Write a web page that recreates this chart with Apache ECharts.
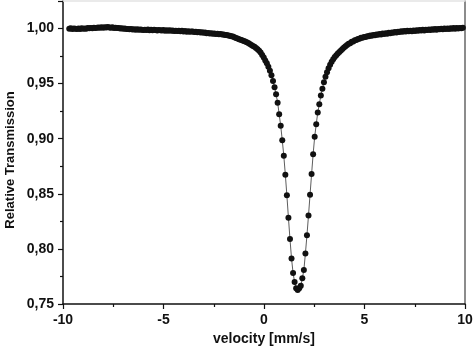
<!DOCTYPE html>
<html>
<head>
<meta charset="utf-8">
<script src="https://cdn.jsdelivr.net/npm/echarts@6/dist/echarts.min.js"></script>
<style>
  html, body { margin: 0; padding: 0; background: #fff; }
  #chart { width: 474px; height: 347px; }
</style>
</head>
<body>
<div id="chart"></div>
<script>
// Mössbauer absorption spectrum: 256 channels, relative transmission per channel.
const velocityStart = -9.69;   // mm/s, first channel
const velocityStep = 0.0768;   // mm/s per channel

const transmission = [
  0.9998, 1.0002, 0.9996, 1.0001, 0.9999, 0.9995, 1.0000, 0.9997, 1.0003, 0.9999,
  1.0001, 0.9998, 1.0004, 1.0002, 1.0006, 1.0003, 1.0008, 1.0005, 1.0007, 1.0010,
  1.0007, 1.0011, 1.0008, 1.0012, 1.0009, 1.0013, 1.0010, 1.0008, 1.0011, 1.0006,
  1.0008, 1.0004, 1.0006, 1.0001, 1.0003, 0.9998, 1.0000, 0.9995, 0.9997, 0.9993,
  0.9995, 0.9991, 0.9994, 0.9990, 0.9993, 0.9988, 0.9992, 0.9989, 0.9986, 0.9990,
  0.9987, 0.9991, 0.9985, 0.9988, 0.9984, 0.9989, 0.9986, 0.9982, 0.9987, 0.9984,
  0.9983, 0.9986, 0.9981, 0.9985, 0.9980, 0.9984, 0.9979, 0.9983, 0.9978, 0.9981,
  0.9977, 0.9980, 0.9975, 0.9979, 0.9974, 0.9977, 0.9972, 0.9976, 0.9971, 0.9974,
  0.9973, 0.9969, 0.9972, 0.9966, 0.9969, 0.9964, 0.9966, 0.9961, 0.9963, 0.9958,
  0.9959, 0.9955, 0.9957, 0.9953, 0.9955, 0.9951, 0.9952, 0.9949, 0.9950, 0.9946,
  0.9946, 0.9942, 0.9941, 0.9937, 0.9934, 0.9930, 0.9927, 0.9921, 0.9915, 0.9909,
  0.9903, 0.9898, 0.9893, 0.9888, 0.9882, 0.9876, 0.9868, 0.9859, 0.9850, 0.9841,
  0.9834, 0.9824, 0.9813, 0.9799, 0.9782, 0.9761, 0.9737, 0.9711, 0.9684, 0.9653,
  0.9618, 0.9575, 0.9524,
  0.9467, 0.9404, 0.9327, 0.9223, 0.9117, 0.8987, 0.8845, 0.8672, 0.8486, 0.8283,
  0.8089, 0.7914, 0.7781, 0.7700, 0.7642, 0.7626,
  0.7642, 0.7665, 0.7733, 0.7808, 0.7959, 0.8125, 0.8304, 0.8491, 0.8679, 0.8860,
  0.9017, 0.9132, 0.9238, 0.9313, 0.9392, 0.9454, 0.9513, 0.9563, 0.9604, 0.9640,
  0.9672, 0.9699,
  0.9722, 0.9742, 0.9758, 0.9773, 0.9787, 0.9800, 0.9814, 0.9827, 0.9839, 0.9850,
  0.9862, 0.9867, 0.9880, 0.9883, 0.9894, 0.9896, 0.9906, 0.9907, 0.9916, 0.9916,
  0.9924, 0.9923, 0.9931, 0.9929, 0.9937, 0.9934, 0.9941, 0.9939, 0.9947, 0.9944,
  0.9950, 0.9947, 0.9954, 0.9951, 0.9957, 0.9953, 0.9961, 0.9957, 0.9965, 0.9961,
  0.9969, 0.9964, 0.9972, 0.9968, 0.9976, 0.9972, 0.9978, 0.9973, 0.9979, 0.9975,
  0.9981, 0.9976, 0.9983, 0.9978, 0.9985, 0.9980, 0.9987, 0.9982, 0.9988, 0.9983,
  0.9990, 0.9986, 0.9991, 0.9987, 0.9994, 0.9989, 0.9995, 0.9990, 0.9997, 0.9993,
  0.9998, 0.9994, 1.0000, 0.9995, 1.0001, 0.9997, 1.0002, 0.9998, 1.0004, 0.9999,
  1.0004, 1.0001, 1.0005, 1.0003, 1.0007
];

const xTicks = [-10, -5, 0, 5, 10];
const yTicks = [0.75, 0.80, 0.85, 0.90, 0.95, 1.00];
const xTitle = 'velocity [mm/s]';
const yTitle = 'Relative Transmission';

const points = transmission.map((t, i) => [velocityStart + i * velocityStep, t]);

const font = 'Liberation Sans';
const ink = '#111';
const chart = echarts.init(document.getElementById('chart'), null, { renderer: 'canvas' });

chart.setOption({
  animation: false,
  grid: { left: 63, right: 9, top: 1, bottom: 43, outerBoundsMode: 'none', containLabel: false },
  // vertical axis title, set a little below the plot's middle
  graphic: [{
    type: 'text',
    x: 10, y: 160,
    rotation: Math.PI / 2,
    style: {
      text: yTitle,
      fontFamily: font, fontWeight: 'bold', fontSize: 13, fill: ink,
      align: 'center', verticalAlign: 'middle'
    }
  }],
  xAxis: [{
    type: 'value',
    min: xTicks[0], max: xTicks[xTicks.length - 1], interval: 5,
    name: xTitle, nameLocation: 'middle', nameGap: 28,
    nameTextStyle: { fontFamily: font, fontWeight: 'bold', fontSize: 14, color: ink },
    axisLine: { onZero: false, lineStyle: { color: ink, width: 1.5 } },
    axisTick: { length: 5, lineStyle: { color: ink, width: 1.2 } },
    minorTick: { show: true, splitNumber: 2, length: 3, lineStyle: { color: ink, width: 1.2 } },
    axisLabel: { margin: 9, fontFamily: font, fontWeight: 'bold', fontSize: 14, color: ink },
    splitLine: { show: false }
  }, {
    type: 'value', position: 'top',
    min: xTicks[0], max: xTicks[xTicks.length - 1],
    axisLine: { onZero: false, lineStyle: { color: '#e4e4e4', width: 1.5 } },
    axisTick: { show: false }, axisLabel: { show: false }, splitLine: { show: false }
  }],
  yAxis: [{
    type: 'value',
    min: yTicks[0], max: 1.025, interval: 0.05,
    axisLine: { show: true, onZero: false, lineStyle: { color: ink, width: 1.5 } },
    axisTick: { length: 5, lineStyle: { color: ink, width: 1.2 } },
    minorTick: { show: true, splitNumber: 2, length: 3, lineStyle: { color: ink, width: 1.2 } },
    axisLabel: {
      margin: 9, fontFamily: font, fontWeight: 'bold', fontSize: 14, color: ink,
      showMaxLabel: false,
      formatter: v => v.toFixed(2).replace('.', ',')
    },
    splitLine: { show: false }
  }, {
    type: 'value', position: 'right',
    min: yTicks[0], max: 1.025,
    axisLine: { show: true, onZero: false, lineStyle: { color: '#666', width: 1.5 } },
    axisTick: { show: false }, axisLabel: { show: false }, splitLine: { show: false }
  }],
  series: [{
    type: 'line',
    data: points,
    xAxisIndex: 0, yAxisIndex: 0,
    showSymbol: true, showAllSymbol: true,
    symbol: 'circle', symbolSize: 6,
    itemStyle: { color: ink },
    lineStyle: { color: '#333', width: 0.8 },
    z: 3
  }]
});
</script>
</body>
</html>
